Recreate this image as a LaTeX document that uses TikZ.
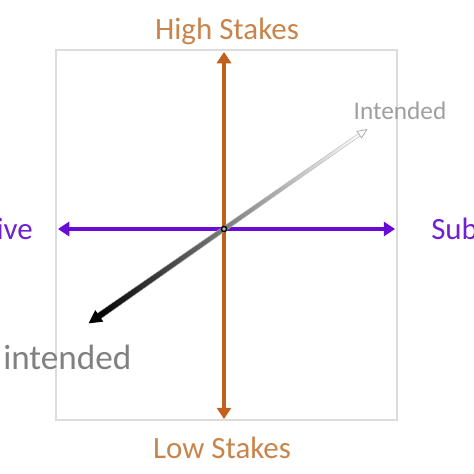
\documentclass[tikz,border=0pt]{standalone}
\usepackage{fontspec}
\setmainfont{Carlito}
\usetikzlibrary{arrows.meta, positioning, calc}
\definecolor{stakeline}{HTML}{C0601A}
\definecolor{staketext}{HTML}{C8844A}
\definecolor{axisline}{HTML}{6A0AD6}
\definecolor{axistext}{HTML}{7020D0}
\definecolor{framegray}{HTML}{DCDCDC}
\definecolor{labelgray}{HTML}{808080}

\begin{document}
\begin{tikzpicture}[x=0.025cm, y=-0.025cm,
    axis/.style={line width=2.2pt, {Triangle[length=8pt,width=10pt]}-{Triangle[length=8pt,width=10pt]}},
    stakelabel/.style={text=staketext, font=\fontsize{22}{26}\selectfont, inner sep=0pt},
    sidelabel/.style={text=axistext, font=\fontsize{22}{26}\selectfont, inner sep=0pt}]
    \useasboundingbox (0,0) rectangle (474,474);
    % frame
    \draw[framegray, line width=0.8pt] (56,50) rectangle (397,420);
    % axis ends
    \coordinate (o) at (224,229);
    \coordinate (top) at (224,52);
    \coordinate (bot) at (224,419);
    \coordinate (left) at (58,229);
    \coordinate (right) at (395,229);
    \draw[axis, stakeline] (bot) -- (top);
    \draw[axis, axisline] (left) -- (right);
    % diagonal gradient arrow
    \begin{scope}[shift={(o)}, rotate=34.87]
        \shade[left color=black, right color=white, draw=gray!55, line width=0.3pt]
            (-153,-3.3) -- (166,-1.4) -- (166,1.4) -- (-153,3.3) -- cycle;
        \fill[black] (-165,0) -- (-152,-7) -- (-152,7) -- cycle;
        \draw[gray!70, fill=white, line width=0.5pt] (174,0) -- (165,-4) -- (165,4) -- cycle;
    \end{scope}
    \draw[black, fill=gray!60, line width=1pt] (o) circle (2.6);
    % labels
    \node[stakelabel] (high) at (227,31) {High Stakes};
    \node[stakelabel] (low) at (222,448) {Low Stakes};
    \node[sidelabel, anchor=east] (obj) at (33,229) {ive};
    \node[sidelabel, anchor=west] (subj) at (431,229) {Sub};
    \node[text=gray!75, font=\fontsize{18}{22}\selectfont, inner sep=0pt] (int) at (400,111) {Intended};
    \node[text=labelgray, font=\fontsize{25}{30}\selectfont, inner sep=0pt, anchor=west] (unint) at (3,357) {intended};
\end{tikzpicture}
\end{document}
